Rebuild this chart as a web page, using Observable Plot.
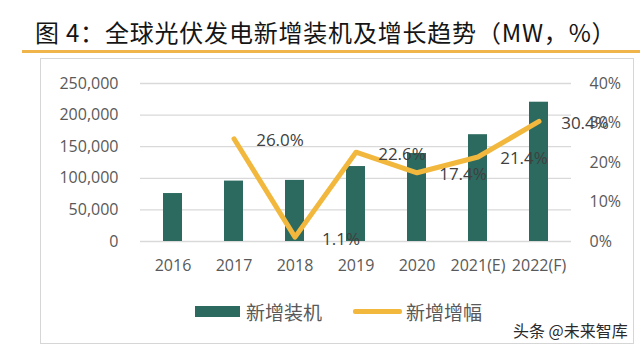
<!DOCTYPE html>
<html><head><meta charset="utf-8">
<script src="https://cdn.jsdelivr.net/npm/d3@7"></script>
<script src="https://cdn.jsdelivr.net/npm/@observablehq/plot@0.6"></script>
<style>
body{margin:0;background:#fff;}
#wrap{position:relative;width:640px;height:348px;overflow:hidden;font-family:"Noto Sans CJK SC",sans-serif;background:#fff;}
#title{position:absolute;left:35px;top:19px;font-size:24px;line-height:26px;letter-spacing:0.8px;color:#151515;white-space:nowrap;}
#rule{position:absolute;left:22px;top:50px;width:618px;height:3px;background:#f0b54a;}
#frame{position:absolute;left:40px;top:58px;width:594px;height:286px;border:1px solid #d6d6d6;box-sizing:border-box;}
#chart{position:absolute;left:0;top:0;}
.sw{position:absolute;}
.lt{position:absolute;font-size:19px;line-height:20px;color:#595959;white-space:nowrap;}
#wm{position:absolute;left:513px;top:321px;font-size:16px;line-height:18px;color:#2a2a2a;white-space:nowrap;}
</style></head><body>
<div id="wrap">
 <div id="title">图 4：全球光伏发电新增装机及增长趋势（MW，%）</div>
 <div id="rule"></div>
 <div id="frame"></div>
 <div id="chart"></div>
 <div class="sw" style="left:195px;top:306px;width:45px;height:11px;background:#2c6a5f"></div>
 <div class="lt" style="left:246px;top:302px">新增装机</div>
 <div class="sw" style="left:353px;top:309px;width:49px;height:5px;border-radius:2px;background:#f2b83e"></div>
 <div class="lt" style="left:406px;top:302px">新增增幅</div>
 <div id="wm">头条 @未来智库</div>
</div>
<script>
const years = ["2016","2017","2018","2019","2020","2021(E)","2022(F)"];
const installs = [75900, 95600, 96700, 118600, 139200, 169000, 220400];
const growth = [null, 26.0, 1.1, 22.6, 17.4, 21.4, 30.4];
const leftTicks = [0, 50000, 100000, 150000, 200000, 250000];
const rightTicks = [0, 10, 20, 30, 40];

const k = 250000 / 40;
const barData = years.map((y, i) => ({year: y, value: installs[i]}));
const lineData = years.map((y, i) => ({year: y, pct: growth[i]})).filter(d => d.pct != null);

const chart = Plot.plot({
  width: 640, height: 348,
  marginLeft: 140, marginRight: 69, marginTop: 83, marginBottom: 107,
  style: {background: "transparent", fontFamily: "'Open Sans', sans-serif", fontSize: "16px", color: "#595959"},
  x: {type: "band", domain: years, paddingInner: 0.69, paddingOuter: 0.345},
  y: {domain: [0, 250000]},
  marks: [
    Plot.ruleY(leftTicks, {stroke: "#d9d9d9", strokeWidth: 1.3}),
    Plot.barY(barData, {x: "year", y: "value", fill: "#2c6a5f"}),
    Plot.line(lineData, {x: "year", y: d => d.pct * k, stroke: "#f2b83e", strokeWidth: 5, strokeLinejoin: "round", strokeLinecap: "round"}),
    Plot.text(lineData, {x: "year", y: d => d.pct * k, text: d => d.pct.toFixed(1) + "%", dx: 46, dy: 2, fontSize: 17, fill: "#404040"}),
    Plot.axisY({ticks: leftTicks, tickFormat: d3.format(","), tickSize: 0, tickPadding: 22, label: null}),
    Plot.axisY({anchor: "right", ticks: rightTicks.map(v => v * k), tickFormat: d => Math.round(d / k) + "%", tickSize: 0, tickPadding: 18, label: null}),
    Plot.axisX({tickSize: 0, tickPadding: 18, label: null})
  ]
});
document.getElementById("chart").appendChild(chart);
</script>
</body></html>
